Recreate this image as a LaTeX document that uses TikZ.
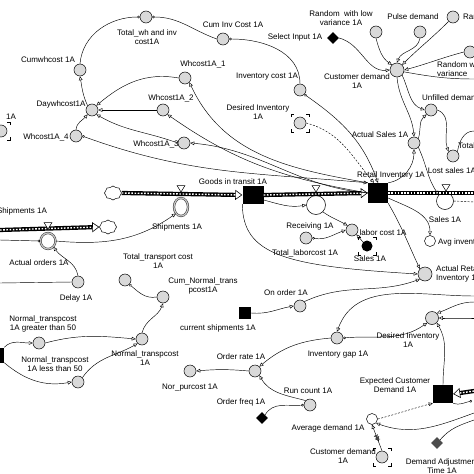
\documentclass[tikz,border=0pt]{standalone}
\usepackage{fontspec}
\newfontfamily\sdfont{Liberation Sans}
\usetikzlibrary{arrows.meta, shapes.geometric, shapes.symbols, decorations.markings}

\tikzset{
  lbl/.style={font=\sdfont\fontsize{8}{9}\selectfont, align=center, inner sep=0pt},
  aux/.style={circle, draw, line width=0.5pt, fill=gray!30, minimum size=12pt, inner sep=0pt},
  auxw/.style={aux, fill=white, minimum size=11pt},
  stock/.style={rectangle, fill=black, minimum width=20pt, minimum height=18pt, inner sep=0pt},
  const/.style={diamond, fill=black, minimum width=12pt, minimum height=12pt, inner sep=0pt},
  valve/.style={ellipse, draw=black!80, line width=0.5pt, double=gray!45, double distance=1.2pt, fill=white, minimum width=14pt, minimum height=18pt, inner sep=0pt},
  bigvalve/.style={circle, draw, line width=0.5pt, fill=white, minimum size=19pt, inner sep=0pt},
  source/.style={cloud, cloud puffs=8, cloud puff arc=110, draw, line width=0.5pt, fill=white, minimum width=17pt, minimum height=14pt, inner sep=0pt},
  link/.style={draw, line width=0.45pt, arrows={-Triangle[open, length=4pt, width=3.6pt]}},
  olink/.style={draw, line width=0.45pt, arrows={Circle[open, length=2.6pt]-Triangle[open, length=4pt, width=3.6pt]}},
  clink/.style={draw, line width=0.45pt, arrows={Circle[open, length=2.6pt]-}},
  info/.style={link, dash pattern=on 2pt off 1.5pt},
  pipe/.style={draw, line width=4.2pt, arrows={-Triangle[open, length=7pt, width=10pt, line width=0.6pt]},
    postaction={draw=white, arrows=-, line width=1.4pt, dash pattern=on 1.6pt off 1.6pt, shorten >=7pt}},
  pipeend/.style={draw, line width=4.2pt, postaction={draw=white, line width=1.4pt, dash pattern=on 1.6pt off 1.6pt}},
  vtri/.pic={\draw[fill=white, line width=0.5pt] (-4pt,3.5pt) -- (4pt,3.5pt) -- (0,-3pt) -- cycle;},
  delaymark/.style={postaction={decorate, decoration={markings, mark=at position 0.45 with {\draw (-1pt,-2.5pt) -- (1pt,2.5pt); \draw (2pt,-2.5pt) -- (4pt,2.5pt);}}}}
}

% corner marks of a ghost variable
\newcommand{\ghost}[1]{%
  \foreach \sx in {-1,1}{\foreach \sy in {-1,1}{%
    \draw[line width=0.5pt] ([shift={(\sx*9pt,\sy*6pt)}]#1.center) -- ++(0,\sy*3pt) -- ++(-\sx*3pt,0);}}}

\begin{document}
\begin{tikzpicture}[x=1pt, y=-1pt]
  \useasboundingbox (0,0) rectangle (474,474);
  \clip (0,0) rectangle (474,474);

  % warehouse costs
  \node[aux] (ghostL) at (1,131) {};
  \node[lbl] (l-ghostL) at (11,117) {1A};
  \node[aux] (cumwh) at (80,70) {};
  \node[lbl] (l-cumwh) at (48,60) {Cumwhcost 1A};
  \node[aux] (daywh) at (92,110) {};
  \node[lbl] (l-daywh) at (61,104) {Daywhcost1A};
  \node[aux] (wh4) at (76,136) {};
  \node[lbl] (l-wh4) at (46,137) {Whcost1A\_4};
  \node[aux] (totwh) at (146,17) {};
  \node[lbl] (l-totwh) at (147,37.5) {Total\_wh and inv\\cost1A};
  \node[aux] (cuminv) at (223,39) {};
  \node[lbl] (l-cuminv) at (233,25) {Cum Inv Cost 1A};
  \node[aux] (wh1) at (185,78) {};
  \node[lbl] (l-wh1) at (203,64) {Whcost1A\_1};
  \node[aux] (wh2) at (163,110) {};
  \node[lbl] (l-wh2) at (171,98) {Whcost1A\_2};
  \node[aux] (wh3) at (184,143) {};
  \node[lbl] (l-wh3) at (156,144) {Whcost1A\_3};
  \node[aux] (invcost) at (300,90) {};
  \node[lbl] (l-invcost) at (267,77) {Inventory cost 1A};
  \node[aux] (desinvT) at (300,123) {};
  \node[lbl] (l-desinvT) at (258,112) {Desired Inventory\\1A};

  % demand
  \node[const] (selin) at (333,38) {};
  \node[lbl] (l-selin) at (295,37) {Select Input 1A};
  \node[lbl] (l-randlow) at (341,18.5) {Random\ \ with low\\variance 1A};
  \node[aux] (randlow) at (376,32) {};
  \node[aux] (pulse) at (420,32) {};
  \node[lbl] (l-pulse) at (413,17) {Pulse demand};
  \node[aux] (randhi) at (453,17) {};
  \node[lbl, anchor=west] (l-randhi) at (463,17) {Random};
  \node[aux] (randhi2) at (470,52) {};
  \node[lbl, anchor=north west, align=left] (l-randhi2) at (437,62) {Random with\\variance};
  \node[aux, minimum size=14pt] (custdem) at (397,70) {};
  \node[lbl] (l-custdem) at (357,81.5) {Customer demand\\1A};
  \node[aux] (unfilled) at (431,110) {};
  \node[lbl, anchor=west] (l-unfilled) at (422,98) {Unfilled demand 1A};
  \node[aux] (actsales) at (414,143) {};
  \node[lbl] (l-actsales) at (380,135) {Actual Sales 1A};
  \node[aux] (lostc) at (453,156) {};
  \node[lbl] (l-lostc) at (452,171) {Lost sales 1A};
  \node[lbl, anchor=west] (l-total) at (458,146) {Total};

  % stocks and flows
  \node[source] (cloud1) at (113,193) {};
  \node[valve] (shipvalve) at (181,207) {};
  \node[lbl] (l-ship) at (177,227) {Shipments 1A};
  \node[stock, minimum width=21pt] (git) at (253,195) {};
  \node[lbl] (l-git) at (233,182) {Goods in transit 1A};
  \node[bigvalve] (recvalve) at (316,205) {};
  \node[lbl] (l-rec) at (310,226) {Receiving 1A};
  \node[stock, minimum height=20pt] (retinv) at (378,193) {};
  \node[lbl] (l-retinv) at (391,175) {Retail Inventory 1A};
  \node[bigvalve, minimum size=17pt] (salesvalve) at (445,201) {};
  \node[lbl] (l-sales) at (445,220) {Sales 1A};
  \node[auxw] (avginv) at (430,241) {};
  \node[lbl, anchor=west] (l-avginv) at (438,242) {Avg inventory 1A};
  \node[aux] (labor) at (352,230) {};
  \node[lbl] (l-labor) at (383,233) {labor cost 1A};
  \node[circle, fill=black, minimum size=11pt, inner sep=0pt] (salesG) at (367,246) {};
  \node[lbl] (l-salesG) at (370,259) {Sales 1A};
  \node[aux] (totlabor) at (306,238) {};
  \node[lbl] (l-totlabor) at (305,253) {Total\_laborcost 1A};
  \node[aux, minimum size=14pt] (actret) at (425,274) {};
  \node[lbl, anchor=north west, align=left] (l-actret) at (436,265) {Actual Retail\\Inventory 1A};

  % orders and transport
  \node[valve, minimum width=15pt, minimum height=16pt] (actord) at (48,241) {};
  \node[source] (cloud2) at (108,227) {};
  \node[lbl] (l-ship0) at (22,211) {Shipments 1A};
  \node[lbl] (l-actord) at (39,263) {Actual orders 1A};
  \node[aux] (delay) at (78,282) {};
  \node[lbl] (l-delay) at (76,298) {Delay 1A};
  \node[aux] (totrans) at (125,280) {};
  \node[lbl] (l-totrans) at (158,261.5) {Total\_transport cost\\1A};
  \node[aux] (cumnorm) at (163,297) {};
  \node[lbl] (l-cumnorm) at (203,286) {Cum\_Normal\_trans\\pcost1A};
  \node[stock, minimum width=12pt, minimum height=12pt] (curship) at (245,313) {};
  \node[lbl] (l-curship) at (218,328) {current shipments 1A};
  \node[aux] (onorder) at (300,306) {};
  \node[lbl] (l-onorder) at (286,293) {On order 1A};
  \node[aux] (normtp) at (142,339) {};
  \node[lbl] (l-normtp) at (145,358) {Normal\_transpcost\\1A};
  \node[aux] (gt50) at (39,343) {};
  \node[lbl] (l-gt50) at (43,324) {Normal\_transpcost\\1A greater than 50};
  \node[aux] (lt50) at (78,382) {};
  \node[lbl] (l-lt50) at (55,364) {Normal\_transpcost\\1A less than 50};
  \node[stock, minimum width=16pt, minimum height=15pt] (leftsq) at (-4,355) {};

  \node[aux] (ordrate) at (255,371) {};
  \node[lbl] (l-ordrate) at (241,357) {Order rate 1A};
  \node[aux] (norpur) at (190,371) {};
  \node[lbl] (l-norpur) at (190,388) {Nor\_purcost 1A};
  \node[aux] (runcount) at (310,405) {};
  \node[lbl] (l-runcount) at (308,391) {Run count 1A};
  \node[const] (ordfreq) at (262,418) {};
  \node[lbl] (l-ordfreq) at (241,402) {Order freq 1A};
  \node[aux] (invgap) at (337,338) {};
  \node[lbl] (l-invgap) at (338,355) {Inventory gap 1A};
  \node[aux, minimum size=13pt] (desinv) at (432,318) {};
  \node[lbl] (l-desinv) at (408,340.5) {Desired Inventory\\1A};
  \node[stock] (expcd) at (443,394) {};
  \node[lbl] (l-expcd) at (395,385.5) {Expected Customer\\Demand 1A};
  \node[auxw] (avgdem) at (372,419) {};
  \node[lbl] (l-avgdem) at (328,428) {Average demand 1A};
  \node[aux] (custG) at (382,457) {};
  \node[lbl] (l-custG) at (343,456.5) {Customer demand\\1A};
  \node[const, fill=gray!60!black] (demadj) at (437,443) {};
  \node[lbl] (l-demadj) at (442,466.5) {Demand Adjustment\\Time 1A};

  \ghost{ghostL}
  \ghost{desinvT}
  \ghost{salesG}
  \ghost{custG}

  % free ends at the picture border
  \coordinate (eL0) at (0,230);
  \coordinate (eL1) at (0,283);
  \coordinate (eL2) at (0,240);
  \coordinate (eR0) at (474,79);
  \coordinate (eR1) at (474,193);
  \coordinate (eR2) at (474,131);
  \coordinate (eR3) at (474,202);
  \coordinate (eR4) at (474,296);
  \coordinate (eR5) at (474,302);
  \coordinate (eR6) at (474,318);
  \coordinate (eR7) at (474,391);
  \coordinate (eR8) at (472,401);
  \coordinate (eR9) at (474,413);
  \coordinate (eR10) at (474,420);

  % pipes
  \path[pipe] (cloud1.east) -- (git.west);
  \path[pipe] (eL0) -- (cloud2.west);
  \path[pipe] (git.east) -- (retinv.west);
  \path[pipeend] (retinv.east) -- (eR1);
  \path[pipe] (eR7) -- (expcd.east);
  \pic at (181,189) {vtri};
  \pic at (48,226) {vtri};
  \pic at (316,189) {vtri};
  \pic at (446,188) {vtri};

  % connectors
  \path[clink] (totwh.west) to[out=180, in=85] (cumwh.north);
  \path[clink] (totwh.east) to[out=0, in=160] (cuminv.west);
  \path[clink] (cuminv.east) to[out=0, in=90] (invcost.north);
  \path[link] (daywh.north west) to[out=115, in=-80] (cumwh.south);
  \path[link] (wh4.north) to[out=85, in=230] (daywh.south west);
  \path[link] (wh1.west) to[out=170, in=40] (daywh.north east);
  \path[link] (wh2.west) -- (daywh.east);
  \path[link] (wh3.west) to[out=160, in=-30] (daywh.south east);
  \path[olink] (wh4.east) to[out=-20, in=175] (retinv.north west);
  \path[link] (retinv.north west) to[out=170, in=-65] (wh1.south east);
  \path[link] (retinv.west) to[out=170, in=-35] (wh2.south east);
  \path[link] (retinv.west) to[out=175, in=-5] (wh3.east);
  \path[olink] (invcost.south east) to[out=-35, in=110] (retinv.north);
  \path[info] (desinvT.east) to[out=-15, in=130] ([xshift=-4pt]retinv.north);

  \path[link] ([yshift=-5pt]git.east) to[out=-15, in=190] (recvalve.west);
  \path[link] (recvalve.south east) to[out=-35, in=150] (labor.north west);
  \path[link] (salesG.north west) -- (labor.south east);
  \path[olink] (totlabor.east) to[out=-10, in=200] (labor.west);
  \path[link] (git.south west) .. controls (243,255) and (285,266) .. (actret.west);
  \path[link] (retinv.south east) to[out=-60, in=115] (actret.north west);
  \path[link] ([yshift=-5pt]retinv.east) to[out=-25, in=90] (avginv.north);
  \path[link] (onorder.north east) to[out=25, in=200] (actret.south west);
  \path[link] (curship.east) to[out=-5, in=190] (onorder.west);
  \path[link] (retinv.north east) to[out=10, in=-90] (actsales.south);
  \path[link] (actsales.south east) to[out=-65, in=125] (salesvalve.north west);
  \path[draw, dash pattern=on 2pt off 1.5pt, line width=0.45pt] (salesvalve.east) -- (eR3);

  \path[link] (selin.east) to[out=-15, in=185] (custdem.west);
  \path[link] (randlow.south) to[out=-75, in=145] (custdem.north west);
  \path[link] (pulse.south) to[out=-100, in=70] (custdem.north);
  \path[link] (randhi.south west) to[out=225, in=45] (custdem.north east);
  \path[link] (randhi2.west) to[out=195, in=15] (custdem.east);
  \path[draw, line width=0.45pt] (custdem.-15) to[out=-10, in=180] (eR0);
  \path[link] (custdem.south east) to[out=-65, in=160] (unfilled.west);
  \path[link] (custdem.south) to[out=-85, in=95] (actsales.north);
  \path[link] (actsales.north east) to[out=75, in=220] (unfilled.south west);
  \path[link] (unfilled.east) to[out=-20, in=110] (lostc.north west);
  \path[draw, line width=0.45pt] (lostc.north east) to[out=80, in=180] (eR2);

  \path[link] (eR4) to[out=180, in=70] (invgap.north);
  \path[olink] (invgap.east) to[out=5, in=215] (desinv.south west);
  \path[link] (eR5) to[out=180, in=20] (desinv.north east);
  \path[link] (eR6) to[out=180, in=0] (desinv.east);
  \path[link] (expcd.north) to[out=90, in=-60] (desinv.south east);
  \path[link] (invgap.west) to[out=185, in=40] (ordrate.north east);
  \path[link] (ordrate.west) to[out=175, in=5] (norpur.east);
  \path[link] (runcount.north west) to[out=165, in=-60] (ordrate.south east);
  \path[clink] (runcount.west) to[out=185, in=60] (ordfreq.north east);
  \path[info] (avgdem.east) to[out=15, in=195] (expcd.south west);
  \path[link, delaymark] (custG.north) -- (avgdem.south);
  \path[link] (eR9) to[out=200, in=-20] (avgdem.south east);
  \path[draw, line width=0.45pt] (demadj.north east) to[out=50, in=200] (eR10);
  \path[clink] (eR8) to[out=190, in=-20] (expcd.south east);

  \path[link] (leftsq.north east) to[out=45, in=180] (gt50.west);
  \path[link] (leftsq.south east) to[out=-40, in=190] (lt50.west);
  \path[link] (gt50.east) to[out=15, in=175] (normtp.west);
  \path[link] (lt50.north east) to[out=55, in=210] (normtp.south west);
  \path[link] (normtp.north) to[out=75, in=-110] (cumnorm.south);
  \path[clink] (totrans.south east) to[out=-40, in=190] (cumnorm.west);
  \path[link] (delay.north) to[out=100, in=-55] (actord.south east);
  \path[draw, line width=0.45pt] (eL1) -- (delay.west);
  \path[clink] (actord.west) -- (eL2);
  \path[link] (actord.east) to[out=-5, in=215] (shipvalve.south west);
\end{tikzpicture}
\end{document}
